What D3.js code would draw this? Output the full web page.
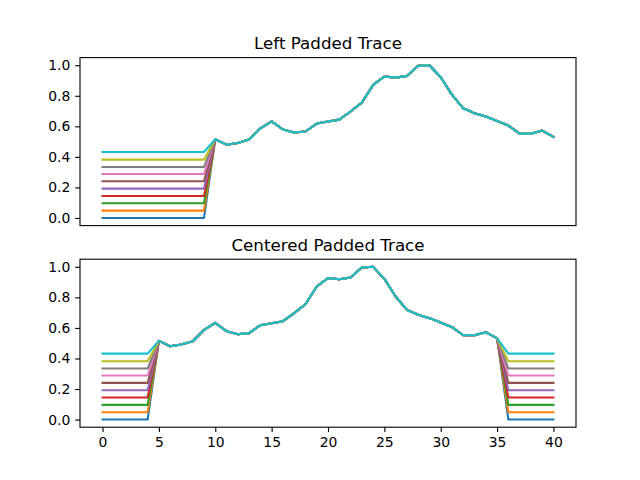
<!DOCTYPE html>
<html>
<head>
<meta charset="utf-8">
<script src="https://d3js.org/d3.v7.min.js"></script>
<style>
  body { margin: 0; background: #fff; }
  svg { font-family: "DejaVu Sans", sans-serif; }
</style>
</head>
<body>
<svg width="640" height="480"></svg>
<script>
// trace values (31 samples)
var trace = [0.515, 0.48, 0.491, 0.513, 0.587, 0.633, 0.579, 0.559, 0.566, 0.618,
             0.631, 0.644, 0.697, 0.755, 0.871, 0.926, 0.919, 0.930, 0.996, 1.0,
             0.921, 0.806, 0.718, 0.686, 0.664, 0.635, 0.605, 0.552, 0.552, 0.572, 0.531];
// constant pad value for each of the 10 lines
var padValues = [0, 0.048, 0.096, 0.144, 0.192, 0.240, 0.288, 0.334, 0.382, 0.432];
var colors = ['#1f77b4', '#ff7f0e', '#2ca02c', '#d62728', '#9467bd',
              '#8c564b', '#e377c2', '#7f7f7f', '#bcbd22', '#17becf'];
var yTicks = [0, 0.2, 0.4, 0.6, 0.8, 1.0];
var xTicks = [0, 5, 10, 15, 20, 25, 30, 35, 40];
var titles = ['Left Padded Trace', 'Centered Padded Trace'];

var leftPad = 10, centerPad = 5;

function leftPadded(p) {
  var out = [];
  for (var i = 0; i < leftPad; i++) out.push(p);
  return out.concat(trace);
}
function centerPadded(p) {
  var out = [];
  for (var i = 0; i < centerPad; i++) out.push(p);
  out = out.concat(trace);
  for (var i = 0; i < centerPad; i++) out.push(p);
  return out;
}

var svg = d3.select('svg');

var left = 80, right = 576;
var panels = [
  { top: 57.6, bottom: 225.6, fn: leftPadded, showX: false },
  { top: 259.2, bottom: 427.2, fn: centerPadded, showX: true }
];

var x = d3.scaleLinear().domain([-2, 42]).range([left, right]);

panels.forEach(function(p, k) {
  var y = d3.scaleLinear().domain([-0.05, 1.05]).range([p.bottom, p.top]);
  var g = svg.append('g');

  var line = d3.line()
      .x(function(d, i) { return x(i); })
      .y(function(d) { return y(d); });

  g.selectAll('path.trace')
    .data(padValues)
    .enter().append('path')
    .attr('class', 'trace')
    .attr('d', function(d) { return line(p.fn(d)); })
    .attr('fill', 'none')
    .attr('stroke', function(d, i) { return colors[i]; })
    .attr('stroke-width', 2.08)
    .attr('stroke-linejoin', 'round')
    .attr('stroke-linecap', 'square');

  var ya = g.append('g')
      .attr('transform', 'translate(' + left + ',0)')
      .call(d3.axisLeft(y).tickValues(yTicks).tickFormat(d3.format('.1f'))
            .tickSizeInner(4.86).tickSizeOuter(0).tickPadding(4.86));
  ya.select('.domain').remove();

  if (p.showX) {
    var xa = g.append('g')
        .attr('transform', 'translate(0,' + p.bottom + ')')
        .call(d3.axisBottom(x).tickValues(xTicks)
              .tickSizeInner(4.86).tickSizeOuter(0).tickPadding(4.86));
    xa.select('.domain').remove();
  }

  g.selectAll('.tick text')
    .attr('font-size', '13.9px')
    .attr('font-family', '"DejaVu Sans", sans-serif')
    .attr('fill', '#000');
  g.selectAll('.tick line').attr('stroke', '#000').attr('stroke-width', 1.1);

  g.append('rect')
    .attr('x', left).attr('y', p.top)
    .attr('width', right - left).attr('height', p.bottom - p.top)
    .attr('fill', 'none').attr('stroke', '#000').attr('stroke-width', 1.1);

  g.append('text')
    .attr('x', (left + right) / 2)
    .attr('y', p.top - 8.3)
    .attr('text-anchor', 'middle')
    .attr('font-size', '16.7px')
    .attr('fill', '#000')
    .text(titles[k]);
});
</script>
</body>
</html>
